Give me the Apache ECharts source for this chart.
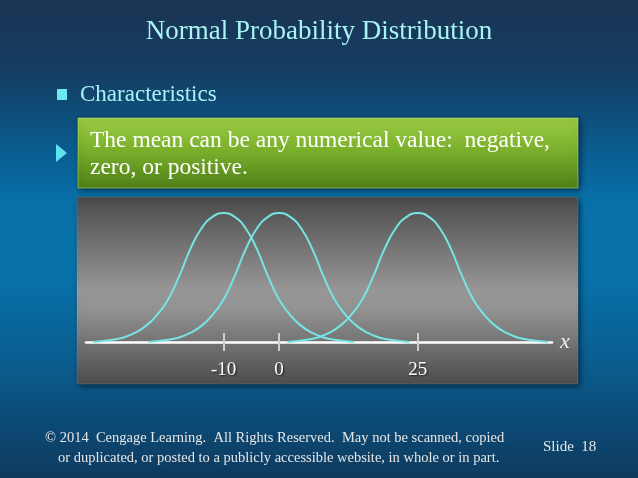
<!DOCTYPE html>
<html><head><meta charset="utf-8">
<script src="https://cdn.jsdelivr.net/npm/echarts@6/dist/echarts.min.js"></script>
<style>html,body{margin:0;padding:0;background:#0d3a5e;}#c{width:638px;height:478px;}</style>
</head><body><div id="c"></div>
<script>
// Means of the three normal curves (x units)
const means = [-10, 0, 25];
// Tick positions and labels on the x axis
const tickValues = [-10, 0, 25];
const tickLabels = ['-10', '0', '25'];
// Curve profile: offset from the mean (x units) and relative height
const offsets = [-23.5, -20, -18, -16, -14, -12, -10, -8, -6, -4, -2, 0, 2, 4, 6, 8, 10, 12, 14, 16, 18, 20, 23.5];
const heights = [0, 0.018, 0.035, 0.07, 0.125, 0.21, 0.33, 0.51, 0.72, 0.88, 0.97, 1, 0.97, 0.88, 0.72, 0.51, 0.33, 0.21, 0.125, 0.07, 0.035, 0.018, 0];

const titleText = 'Normal Probability Distribution';
const bulletText = 'Characteristics';
const boxLines = ['The mean can be any numerical value:  negative,', 'zero, or positive.'];
const footerLines = ['\u00A9 2014  Cengage Learning.  All Rights Reserved.  May not be scanned, copied',
  'or duplicated, or posted to a publicly accessible website, in whole or in part.'];
const slideText = 'Slide  18';

const SERIF = '"Liberation Serif", "DejaVu Serif", serif';
const chart = echarts.init(document.getElementById('c'));
const LG = echarts.graphic.LinearGradient;

const series = means.map(m => ({
  type: 'line',
  data: offsets.map((o, i) => [m + o, heights[i]]),
  smooth: 0.5,
  showSymbol: false,
  lineStyle: { color: '#76e4e4', width: 2 },
  z: 5,
  silent: true
}));

const shadowTxt = { shadowColor: 'rgba(0,0,0,0.65)', shadowOffsetX: 1.5, shadowOffsetY: 1.5, shadowBlur: 2 };

const option = {
  animation: false,
  backgroundColor: new LG(0, 0, 0, 1, [
    { offset: 0, color: '#1b3454' },
    { offset: 0.15, color: '#143d62' },
    { offset: 0.3, color: '#0b5a8c' },
    { offset: 0.42, color: '#0870a8' },
    { offset: 0.58, color: '#0871a9' },
    { offset: 0.75, color: '#0a5e90' },
    { offset: 0.9, color: '#0c4872' },
    { offset: 1, color: '#0f3a5e' }
  ]),
  grid: { left: 86, right: 86, top: 213, bottom: 136 },
  xAxis: [{
    type: 'value', position: 'bottom', min: -34.8, max: 49.2,
    axisLine: { lineStyle: { color: '#ffffff', width: 2.5 } },
    axisTick: { show: true, customValues: tickValues, length: 9, lineStyle: { color: '#cfcfcf', width: 2 } },
    axisLabel: {
      customValues: tickValues,
      formatter: v => tickLabels[tickValues.indexOf(v)],
      margin: 19, color: '#ffffff', fontFamily: SERIF, fontSize: 19,
      textShadowColor: 'rgba(0,0,0,0.7)', textShadowOffsetX: 1, textShadowOffsetY: 1, textShadowBlur: 2
    },
    splitLine: { show: false },
    name: 'x', nameLocation: 'end', nameGap: 8,
    nameTextStyle: { color: '#eeeeee', fontFamily: SERIF, fontStyle: 'italic', fontSize: 22, verticalAlign: 'middle',
      textShadowColor: 'rgba(0,0,0,0.6)', textShadowOffsetX: 1, textShadowOffsetY: 1 }
  }, {
    type: 'value', position: 'bottom', offset: 0, min: -34.8, max: 49.2,
    axisLine: { show: false },
    axisTick: { show: true, inside: true, customValues: tickValues, length: 9, lineStyle: { color: '#cfcfcf', width: 2 } },
    axisLabel: { show: false },
    splitLine: { show: false }
  }],
  yAxis: { type: 'value', min: 0, max: 1, show: false },
  series: series,
  graphic: [
    { type: 'rect', z: -10, shape: { x: 77, y: 197, width: 501, height: 187 },
      style: { fill: new LG(0, 0, 0, 1, [
        { offset: 0, color: '#484848' }, { offset: 0.08, color: '#575757' },
        { offset: 0.5, color: '#979797' }, { offset: 0.6, color: '#929292' },
        { offset: 1, color: '#4c4c4c' }]),
        stroke: 'rgba(255,255,255,0.12)', lineWidth: 1,
        shadowBlur: 6, shadowColor: 'rgba(0,0,0,0.55)', shadowOffsetX: 2, shadowOffsetY: 2 } },
    { type: 'rect', z: -10, shape: { x: 78, y: 118, width: 500, height: 70 },
      style: { fill: new LG(0, 0, 0, 1, [
        { offset: 0, color: '#9ccd44' }, { offset: 0.45, color: '#7bb02c' }, { offset: 1, color: '#4f7f17' }]),
        stroke: 'rgba(200,240,120,0.5)', lineWidth: 1,
        shadowBlur: 6, shadowColor: 'rgba(0,0,0,0.55)', shadowOffsetX: 2, shadowOffsetY: 2 } },
    { type: 'rect', z: 10, shape: { x: 57, y: 89, width: 10, height: 11 }, style: { fill: '#6ae9f0' } },
    { type: 'polygon', z: 10, shape: { points: [[56, 144], [67, 153], [56, 162]] }, style: { fill: '#5fe3ef' } },
    { type: 'text', z: 10, style: Object.assign({ text: titleText, x: 319, y: 32, align: 'center', verticalAlign: 'middle',
      fill: '#a8f3f3', font: '27px ' + SERIF }, shadowTxt) },
    { type: 'text', z: 10, style: Object.assign({ text: bulletText, x: 80, y: 95, align: 'left', verticalAlign: 'middle',
      fill: '#a8f3f3', font: '23px ' + SERIF }, shadowTxt) },
    { type: 'text', z: 10, style: Object.assign({ text: boxLines[0], x: 90, y: 141, align: 'left', verticalAlign: 'middle',
      fill: '#ffffff', font: '23.5px ' + SERIF }, shadowTxt) },
    { type: 'text', z: 10, style: Object.assign({ text: boxLines[1], x: 90, y: 168, align: 'left', verticalAlign: 'middle',
      fill: '#ffffff', font: '23.5px ' + SERIF }, shadowTxt) },
    { type: 'text', z: 10, style: Object.assign({ text: footerLines[0], x: 45, y: 438, align: 'left', verticalAlign: 'middle',
      fill: '#e6e6e6', font: '14.5px ' + SERIF }, shadowTxt) },
    { type: 'text', z: 10, style: Object.assign({ text: footerLines[1], x: 58, y: 458, align: 'left', verticalAlign: 'middle',
      fill: '#e6e6e6', font: '14.5px ' + SERIF }, shadowTxt) },
    { type: 'text', z: 10, style: Object.assign({ text: slideText, x: 543, y: 447, align: 'left', verticalAlign: 'middle',
      fill: '#e6e6e6', font: '15px ' + SERIF }, shadowTxt) }
  ]
};
chart.setOption(option);
</script>
</body></html>
